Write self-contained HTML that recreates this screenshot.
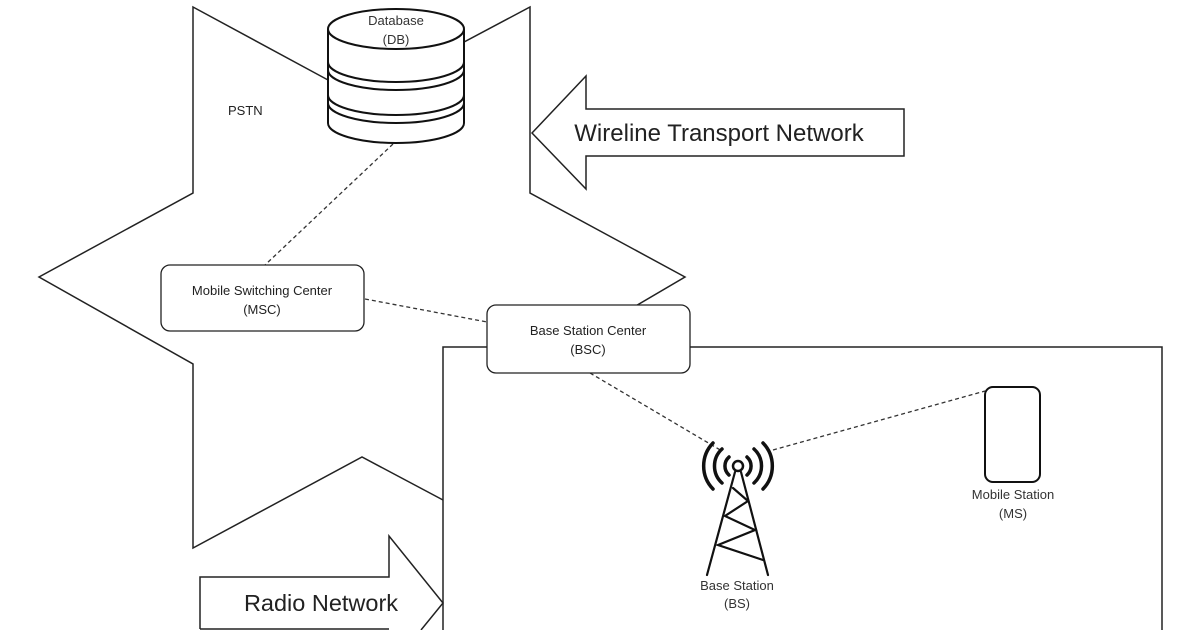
<!DOCTYPE html>
<html><head><meta charset="utf-8"><style>
html,body{margin:0;padding:0;background:#fff;width:1200px;height:630px;overflow:hidden;}
svg{display:block;font-family:"Liberation Sans",Arial,sans-serif;}
</style></head><body>
<svg width="1200" height="630" viewBox="0 0 1200 630" xmlns="http://www.w3.org/2000/svg">
<rect width="1200" height="630" fill="#fff"/>
<polygon points="193,7 328,80 464,42 530,7 530,193 685,277 600,327 530,364 530,548 443,500 362,457 193,548 193,364 39,277 193,193" fill="#fff" stroke="#222" stroke-width="1.5"/>
<path d="M443,630 L443,347 L1162,347 L1162,630" fill="#fff" stroke="#222" stroke-width="1.5"/>
<polygon points="532,133 586,76 586,109 904,109 904,156 586,156 586,189" fill="#fff" stroke="#222" stroke-width="1.5"/>
<text x="719" y="141" font-size="24" text-anchor="middle" fill="#222">Wireline Transport Network</text>
<path d="M200,629 L200,577 L389,577 L389,536 L443,603 L421,630 M389,629 L200,629" fill="#fff" stroke="#222" stroke-width="1.5"/>
<text x="321" y="611" font-size="23.5" text-anchor="middle" fill="#222">Radio Network</text>
<text x="228" y="115" font-size="13" fill="#222">PSTN</text>
<g stroke="#333" stroke-width="1.3" stroke-dasharray="4,3" fill="none">
<line x1="393" y1="144" x2="265" y2="265"/>
<line x1="365" y1="299" x2="487" y2="322"/>
<line x1="590" y1="373" x2="722" y2="451"/>
<line x1="773" y1="450" x2="985" y2="391"/>
</g>
<g fill="#fff" stroke="#111" stroke-width="2">
<path d="M328,29 L328,123 A68,20 0 0 0 464,123 L464,29"/>
<ellipse cx="396" cy="29" rx="68" ry="20"/>
<path d="M328,62 A68,20 0 0 0 464,62" fill="none"/>
<path d="M328,70 A68,20 0 0 0 464,70" fill="none"/>
<path d="M328,95 A68,20 0 0 0 464,95" fill="none"/>
<path d="M328,103 A68,20 0 0 0 464,103" fill="none"/>
</g>
<text x="396" y="25" font-size="13" text-anchor="middle" fill="#333">Database</text>
<text x="396" y="44" font-size="13" text-anchor="middle" fill="#333">(DB)</text>
<rect x="161" y="265" width="203" height="66" rx="9" fill="#fff" stroke="#222" stroke-width="1.3"/>
<text x="262" y="295" font-size="13" text-anchor="middle" fill="#222">Mobile Switching Center</text>
<text x="262" y="314" font-size="13" text-anchor="middle" fill="#222">(MSC)</text>
<rect x="487" y="305" width="203" height="68" rx="9" fill="#fff" stroke="#222" stroke-width="1.3"/>
<text x="588" y="335" font-size="13" text-anchor="middle" fill="#222">Base Station Center</text>
<text x="588" y="354" font-size="13" text-anchor="middle" fill="#222">(BSC)</text>
<g stroke="#111" fill="none" stroke-linecap="round">
<circle cx="738" cy="466" r="5" stroke-width="2.5"/>
<g stroke-width="3.5">
<path d="M729,457 A12,12 0 0 0 729,475"/>
<path d="M747,457 A12,12 0 0 1 747,475"/>
<path d="M722,449 A23,23 0 0 0 722,483"/>
<path d="M754,449 A23,23 0 0 1 754,483"/>
<path d="M713,443 A33,33 0 0 0 713,489"/>
<path d="M763,443 A33,33 0 0 1 763,489"/>
</g>
<g stroke-width="2.2">
<line x1="735" y1="472" x2="707" y2="575"/>
<line x1="741" y1="472" x2="768" y2="575"/>
<polyline points="733,488 748,501 725,516 755,530 718,545 763,560"/>
</g>
</g>
<text x="737" y="590" font-size="13" text-anchor="middle" fill="#333">Base Station</text>
<text x="737" y="608" font-size="13" text-anchor="middle" fill="#333">(BS)</text>
<rect x="985" y="387" width="55" height="95" rx="8" fill="#fff" stroke="#111" stroke-width="2"/>
<text x="1013" y="499" font-size="13" text-anchor="middle" fill="#333">Mobile Station</text>
<text x="1013" y="518" font-size="13" text-anchor="middle" fill="#333">(MS)</text>
</svg>
</body></html>
